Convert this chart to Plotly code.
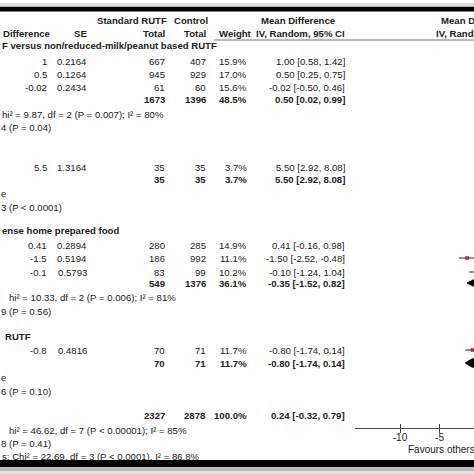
import plotly.graph_objects as go

# ---------------- data ----------------
md_text = ["1", "0.5", "-0.02", "5.5", "0.41", "-1.5", "-0.1", "-0.8"]
se_text = ["0.2164", "0.1264", "0.2434", "1.3164", "0.2894", "0.5194", "0.5793", "0.4816"]
std_total = [667, 945, 61, 35, 280, 186, 83, 70]
ctl_total = [407, 929, 60, 35, 285, 992, 99, 71]
weight = [15.9, 17.0, 15.6, 3.7, 14.9, 11.1, 10.2, 11.7]
md = [1.00, 0.50, -0.02, 5.50, 0.41, -1.50, -0.10, -0.80]
lo = [0.58, 0.25, -0.50, 2.92, -0.16, -2.52, -1.24, -1.74]
hi = [1.42, 0.75, 0.46, 8.08, 0.98, -0.48, 1.04, 0.14]

sub_std = [1673, 35, 549, 70]
sub_ctl = [1396, 35, 1376, 71]
sub_weight = [48.5, 3.7, 36.1, 11.7]
sub_md = [0.50, 5.50, -0.35, -0.80]
sub_lo = [0.02, 2.92, -1.52, -1.74]
sub_hi = [0.99, 8.08, 0.82, 0.14]

tot_std, tot_ctl, tot_weight = 2327, 2878, 100.0
tot_md, tot_lo, tot_hi = 0.24, -0.32, 0.79

group_titles = ["F versus non/reduced-milk/peanut based RUTF", "",
                "ense home prepared food", "RUTF"]
het_text = ["hi\u00b2 = 9.87, df = 2 (P = 0.007); I\u00b2 = 80%", "e",
            "hi\u00b2 = 10.33, df = 2 (P = 0.006); I\u00b2 = 81%", "e"]
z_text = ["4 (P = 0.04)", "3 (P < 0.0001)", "9 (P = 0.56)", "6 (P = 0.10)"]
tot_het = "hi\u00b2 = 46.62, df = 7 (P < 0.00001); I\u00b2 = 85%"
tot_z = "8 (P = 0.41)"
tot_sub = "s: Chi\u00b2 = 22.69, df = 3 (P < 0.0001), I\u00b2 = 86.8%"

tick_vals = [-10, -5, 0, 5, 10]
tick_text = ["-10", "-5", "0", "5", "10"]

# ---------------- layout (pixel rows) ----------------
W = H = 474
study_y = [61, 74, 87, 167, 245, 258, 272, 350]
sub_y = [99, 179, 283, 363]
title_y = [45, 153, 230, 336]
title_x = [0, 0, 0, 3]
het_y = [114, 193, 297, 377]
het_x = [0, -1, 7, -1]
z_y = [127, 207, 311, 391]
tot_y = 415
tot_het_y, tot_z_y, tot_sub_y = 430, 443, 456
axis_y = 428

FONT = "Arial, Liberation Sans, sans-serif"
TXT = "#222222"
FS = 9.6

# forest-plot x mapping: value 0 at px 479, 7.9 px / unit
px0, ppu = 479.0, 7.9
dom_left = 355
xr = [(dom_left - px0) / ppu, (W - px0) / ppu]

fig = go.Figure()
annotations = []


def txt(x, y, s, anchor="right", bold=False, size=FS, color=TXT):
    if bold:
        s = "<b>" + s + "</b>"
    annotations.append(dict(x=x / W, y=y, xref="paper", yref="y", text=s,
                            showarrow=False, xanchor=anchor, yanchor="middle",
                            font=dict(family=FONT, size=size, color=color)))


def ci(m, l, h):
    return f"{m:.2f} [{l:.2f}, {h:.2f}]"


# headers
txt(95, 20, "Standard RUTF", "left", True)
txt(172, 20, "Control", "left", True)
txt(298, 20, "Mean Difference", "center", True)
txt(439, 20, "Mean Difference", "left", True)
txt(1, 33, "Difference", "left", True)
txt(89, 33, "SE", "right", True)
txt(167, 33, "Total", "right", True)
txt(208, 33, "Total", "right", True)
txt(217, 33, "Weight", "left", True)
txt(347, 33, "IV, Random, 95% CI", "right", True)
txt(434, 33, "IV, Random, 95% CI", "left", True)

# study rows
for i in range(len(md)):
    y = study_y[i]
    txt(49, y, md_text[i])
    txt(89, y, se_text[i])
    txt(167, y, str(std_total[i]))
    txt(208, y, str(ctl_total[i]))
    txt(249, y, f"{weight[i]:.1f}%")
    txt(347, y, ci(md[i], lo[i], hi[i]))

for g in range(4):
    if group_titles[g]:
        txt(title_x[g], title_y[g], group_titles[g], "left", True)
    y = sub_y[g]
    txt(167, y, str(sub_std[g]), bold=True)
    txt(208, y, str(sub_ctl[g]), bold=True)
    txt(249, y, f"{sub_weight[g]:.1f}%", bold=True)
    txt(347, y, ci(sub_md[g], sub_lo[g], sub_hi[g]), bold=True)
    txt(het_x[g], het_y[g], het_text[g], "left")
    txt(-1, z_y[g], z_text[g], "left")

txt(167, tot_y, str(tot_std), bold=True)
txt(208, tot_y, str(tot_ctl), bold=True)
txt(249, tot_y, f"{tot_weight:.1f}%", bold=True)
txt(347, tot_y, ci(tot_md, tot_lo, tot_hi), bold=True)
txt(7, tot_het_y, tot_het, "left")
txt(-1, tot_z_y, tot_z, "left")
txt(0, tot_sub_y, tot_sub, "left")
txt(406, 449, "Favours others", "left", size=10)

# CI lines for studies
for i in range(len(md)):
    fig.add_trace(go.Scatter(x=[lo[i], hi[i]], y=[study_y[i], study_y[i]], mode="lines",
                             line=dict(color="#555555", width=1.3), xaxis="x", yaxis="y",
                             hoverinfo="skip", showlegend=False))
fig.add_trace(go.Scatter(x=md, y=study_y, mode="markers", xaxis="x", yaxis="y",
                         marker=dict(symbol="square", color="#c00000",
                                     size=[1.15 * w ** 0.5 for w in weight],
                                     line=dict(width=0)),
                         showlegend=False, hoverinfo="skip"))

# diamonds
dh = 4.5
for m, l, h, y in list(zip(sub_md, sub_lo, sub_hi, sub_y)) + [(tot_md, tot_lo, tot_hi, tot_y)]:
    fig.add_trace(go.Scatter(x=[l, m, h, m, l], y=[y, y - dh, y, y + dh, y], mode="lines",
                             fill="toself", fillcolor="#000000",
                             line=dict(color="#000000", width=1), xaxis="x", yaxis="y",
                             hoverinfo="skip", showlegend=False))

shapes = [
    dict(type="rect", xref="paper", yref="y", x0=0, x1=1, y0=6.5, y1=11.5,
         fillcolor="#000000", line=dict(width=0)),
    dict(type="rect", xref="paper", yref="y", x0=0, x1=1, y0=3, y1=6.5,
         fillcolor="#dddddd", line=dict(width=0)),
    dict(type="line", xref="paper", yref="y", x0=214 / W, x1=1, y0=40, y1=40,
         line=dict(color="#777777", width=1)),
    dict(type="rect", xref="paper", yref="y", x0=0, x1=1, y0=460, y1=467,
         fillcolor="#000000", line=dict(width=0)),
    dict(type="rect", xref="paper", yref="y", x0=0, x1=1, y0=467, y1=471,
         fillcolor="#bdbdbd", line=dict(width=0)),
    dict(type="rect", xref="paper", yref="y", x0=0, x1=1, y0=471, y1=474,
         fillcolor="#e4e4e4", line=dict(width=0)),
]

axpos = 1 - axis_y / H
tick_common = dict(domain=[dom_left / W, 1], anchor="free", position=axpos,
                   showgrid=False, zeroline=False, tickvals=tick_vals,
                   tickcolor="#444444")
fig.update_layout(
    width=W, height=H, margin=dict(l=0, r=0, t=0, b=0),
    paper_bgcolor="white", plot_bgcolor="rgba(0,0,0,0)",
    showlegend=False, annotations=annotations, shapes=shapes,
    xaxis=dict(range=xr, showline=True, linecolor="#444444", linewidth=1,
               ticks="", ticktext=tick_text,
               tickfont=dict(family=FONT, size=10, color=TXT), **tick_common),
    xaxis2=dict(matches="x", overlaying="x", showline=False, ticks="inside", ticklen=4,
                showticklabels=False, **tick_common),
    xaxis3=dict(matches="x", overlaying="x", showline=False, ticks="outside", ticklen=4,
                showticklabels=False, **tick_common),
    yaxis=dict(domain=[0, 1], range=[H, 0], visible=False, showgrid=False,
               zeroline=False),
)
fig.add_trace(go.Scatter(x=[None], y=[None], xaxis="x2", yaxis="y", showlegend=False))
fig.add_trace(go.Scatter(x=[None], y=[None], xaxis="x3", yaxis="y", showlegend=False))

fig.write_html("out.html")
